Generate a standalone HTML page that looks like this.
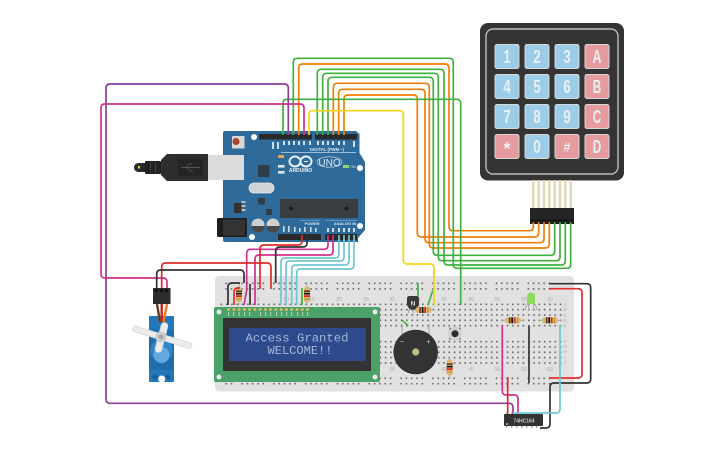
<!DOCTYPE html>
<html>
<head>
<meta charset="utf-8">
<style>
html,body{margin:0;padding:0;background:#fff;width:725px;height:453px;overflow:hidden}
svg{display:block}
text{font-family:"Liberation Sans",sans-serif}
</style>
</head>
<body>
<svg width="725" height="453" viewBox="0 0 725 453" xmlns="http://www.w3.org/2000/svg">
<defs>
<pattern id="dm" patternUnits="userSpaceOnUse" x="480.25" y="303.55" width="5.3" height="5.33"><rect width="1.6" height="1.6" fill="#666"/></pattern>
<pattern id="dr" patternUnits="userSpaceOnUse" x="527.5" y="282.5" width="31.8" height="5.6"><rect x="0" width="1.6" height="1.6" fill="#666"/><rect x="5.3" width="1.6" height="1.6" fill="#666"/><rect x="10.6" width="1.6" height="1.6" fill="#666"/><rect x="15.9" width="1.6" height="1.6" fill="#666"/><rect x="21.2" width="1.6" height="1.6" fill="#666"/></pattern>
<pattern id="dr2" patternUnits="userSpaceOnUse" x="527.5" y="377.5" width="31.8" height="5.4"><rect x="0" width="1.6" height="1.6" fill="#666"/><rect x="5.3" width="1.6" height="1.6" fill="#666"/><rect x="10.6" width="1.6" height="1.6" fill="#666"/><rect x="15.9" width="1.6" height="1.6" fill="#666"/><rect x="21.2" width="1.6" height="1.6" fill="#666"/></pattern>
<g id="res">
<rect x="-11" y="-0.5" width="22" height="1" fill="#aaa"/>
<rect x="-8" y="-3" width="16" height="6" rx="2.6" fill="#dcb877"/>
<rect x="-4.2" y="-3" width="1.7" height="6" fill="#6b3f12"/>
<rect x="-1.7" y="-3" width="1.7" height="6" fill="#111"/>
<rect x="0.8" y="-3" width="1.7" height="6" fill="#e02020"/>
<rect x="3.8" y="-3" width="1.3" height="6" fill="#b8943a"/>
</g>
</defs>

<!-- Breadboard -->
<rect x="215" y="276" width="359" height="115.5" rx="4" fill="#e1e1e1"/>
<rect x="220" y="303.5" width="345" height="24" fill="url(#dm)"/>
<rect x="220" y="340.5" width="345" height="24" fill="url(#dm)"/>
<rect x="222" y="282" width="330" height="9" fill="url(#dr)"/>
<rect x="222" y="377" width="330" height="9" fill="url(#dr2)"/>
<g font-size="5" fill="#aaa" text-anchor="middle">
<text x="258" y="301">5</text><text x="286" y="301">10</text><text x="312" y="301">15</text><text x="339" y="301">20</text><text x="366" y="301">25</text><text x="392" y="301">30</text><text x="418" y="301">35</text><text x="444" y="301">40</text><text x="471" y="301">45</text><text x="497" y="301">50</text><text x="524" y="301">55</text><text x="550" y="301">60</text>
<text x="392" y="371">30</text><text x="418" y="371">35</text><text x="444" y="371">40</text><text x="471" y="371">45</text><text x="497" y="371">50</text><text x="524" y="371">55</text><text x="550" y="371">60</text>
</g>
<g font-size="4.5" fill="#aaa" text-anchor="middle">
<text x="565" y="306">A</text><text x="565" y="311">B</text><text x="565" y="317">C</text><text x="565" y="322">D</text><text x="565" y="327">E</text>
<text x="565" y="343">F</text><text x="565" y="348">G</text><text x="565" y="353">H</text><text x="565" y="359">I</text><text x="565" y="364">J</text>
</g>

<!-- Arduino -->
<path d="M225 131 H356 L359.5 134 V153 L365 162 V230 L358 238 V242 H225 Q223 242 223 240 V133 Q223 131 225 131 Z" fill="#2f6b9a"/>
<rect x="259" y="134" width="53" height="5.5" fill="#2a2a2a"/>
<rect x="315" y="134" width="42" height="5.5" fill="#2a2a2a"/>
<rect x="278" y="234" width="43" height="6" fill="#2a2a2a"/>
<rect x="325" y="234" width="32" height="6" fill="#2a2a2a"/>
<rect x="232" y="136" width="12.5" height="12.5" rx="1" fill="#d8d8d8"/>
<circle cx="236" cy="141.5" r="3.5" fill="#a8442f"/>
<circle cx="254" cy="137" r="3" fill="#fff"/>
<circle cx="360" cy="168" r="3" fill="#fff"/>
<circle cx="360" cy="226" r="3" fill="#fff"/>
<circle cx="252" cy="237" r="3" fill="#fff"/>
<rect x="281" y="152" width="75" height="0.7" fill="#cfe0ee"/>
<text x="327" y="151" font-size="4.2" font-weight="bold" fill="#d5e3ef" text-anchor="middle">DIGITAL (PWM ~)</text>
<g fill="#cfdfec"><rect x="283" y="141" width="2" height="4"/><rect x="288" y="141" width="2" height="4"/><rect x="293" y="141" width="2" height="4"/><rect x="298" y="141" width="2" height="4"/><rect x="303" y="141" width="2" height="4"/><rect x="309" y="141" width="2" height="4"/><rect x="317" y="141" width="2" height="4"/><rect x="322" y="141" width="2" height="4"/><rect x="327" y="141" width="2" height="4"/><rect x="332" y="141" width="2" height="4"/><rect x="338" y="141" width="2" height="4"/><rect x="343" y="141" width="2" height="4"/><rect x="353" y="141" width="2" height="6"/><rect x="272" y="142" width="2" height="7"/><rect x="277" y="142" width="2" height="7"/></g>
<ellipse cx="295" cy="161.5" rx="5.5" ry="5" fill="none" stroke="#e8f0f6" stroke-width="2"/>
<ellipse cx="306" cy="161.5" rx="5.5" ry="5" fill="none" stroke="#e8f0f6" stroke-width="2"/>
<rect x="304" y="161" width="4" height="1" fill="#e8f0f6"/>
<text x="300.5" y="172" font-size="5" font-weight="bold" fill="#e8f0f6" text-anchor="middle">ARDUINO</text>
<ellipse cx="329.5" cy="162" rx="12.5" ry="5.2" fill="none" stroke="#cfe0ee" stroke-width="0.6"/>
<text x="329.5" y="166" font-size="10" fill="#dde8f2" text-anchor="middle">UNO</text>
<rect x="343" y="165" width="6" height="3" fill="#8fdc6a"/>
<text x="353" y="168" font-size="3.5" fill="#d5e3ef" text-anchor="middle">ON</text>
<rect x="278" y="155" width="6" height="3" fill="#dca75c"/>
<rect x="278" y="165" width="6.5" height="2.6" fill="#dfe6ea"/>
<rect x="278" y="171" width="6.5" height="2.6" fill="#dfe6ea"/>
<rect x="258" y="165" width="11.5" height="12" rx="1" fill="#2d3d4a"/>
<rect x="249" y="183" width="25" height="10" rx="5" fill="#cfd3d6" stroke="#e8e8e8" stroke-width="0.8"/>
<rect x="258" y="198" width="7" height="6.5" fill="#2d3d4a"/>
<rect x="280" y="199" width="78" height="19" fill="#3a3d40"/>
<circle cx="291" cy="208.5" r="2" fill="#1c1c1c"/>
<circle cx="346.5" cy="208.5" r="2" fill="#1c1c1c"/>
<rect x="234" y="203" width="7.5" height="10" fill="#333"/>
<rect x="241.5" y="201" width="4" height="2" fill="#bbb"/><rect x="241.5" y="205" width="4" height="2" fill="#bbb"/><rect x="241.5" y="209" width="4" height="2" fill="#bbb"/>
<rect x="266" y="209" width="6" height="6" fill="#2d3d4a"/>
<circle cx="258" cy="225" r="6.5" fill="#d0d0d0"/>
<path d="M251.5 226 a6.5 6.5 0 0 0 13 0 z" fill="#4a4a4a"/>
<circle cx="273" cy="225" r="6.5" fill="#d0d0d0"/>
<path d="M266.5 226 a6.5 6.5 0 0 0 13 0 z" fill="#4a4a4a"/>
<rect x="217" y="218" width="30" height="19" rx="1.5" fill="#1f1f1f"/>
<rect x="223" y="219.5" width="22" height="16" rx="2" fill="#333"/>
<text x="312" y="225" font-size="4" font-weight="bold" fill="#d5e3ef" text-anchor="middle">POWER</text>
<text x="345" y="225" font-size="4" font-weight="bold" fill="#d5e3ef" text-anchor="middle">ANALOG IN</text>
<rect x="300" y="220" width="20" height="0.6" fill="#8fb2cf"/><rect x="326" y="220" width="31" height="0.6" fill="#8fb2cf"/>
<g fill="#cfdfec"><rect x="283" y="226" width="1.6" height="6"/><rect x="288" y="226" width="1.6" height="6"/><rect x="294" y="227" width="1.6" height="5"/><rect x="299" y="228" width="1.6" height="4"/><rect x="304" y="227" width="1.6" height="5"/><rect x="310" y="227" width="1.6" height="5"/><rect x="315" y="228" width="1.6" height="4"/><rect x="327" y="228" width="2" height="4"/><rect x="332" y="228" width="2" height="4"/><rect x="338" y="228" width="2" height="4"/><rect x="343" y="228" width="2" height="4"/><rect x="348" y="228" width="2" height="4"/><rect x="353" y="228" width="2" height="4"/></g>

<!-- USB -->
<rect x="208" y="155" width="36" height="25" fill="#dcdcdc"/>
<path d="M167 154 H208 V181 H167 L161 175 V160 Z" fill="#2e2e2e"/>
<rect x="178" y="159" width="25" height="17" fill="#252525"/>
<path d="M181 167.5 H200 M186 167.5 L189 164 H192 M187 167.5 L190 171 H193" stroke="#555" stroke-width="0.9" fill="none"/>
<rect x="145" y="161" width="16" height="13" rx="1" fill="#222"/>
<rect x="150" y="162.5" width="1" height="10" fill="#444"/><rect x="155" y="162.5" width="1" height="10" fill="#444"/>
<path d="M145 163 H138 Q134 164 134 167.5 Q134 171 138 172 H145 Z" fill="#2a2a2a"/>
<rect x="138" y="166" width="2" height="2.5" fill="#e8d42a"/>

<!-- Keypad -->
<rect x="480" y="23" width="144" height="157.5" rx="8" fill="#343434"/>
<rect x="486" y="29" width="132" height="145" rx="7" fill="none" stroke="#bdbdbd" stroke-width="1.4"/>
<g stroke="#d9d9d9" stroke-width="1">
<g fill="#9bcde8">
<rect x="495" y="44.5" width="24" height="24" rx="2"/><rect x="525" y="44.5" width="24" height="24" rx="2"/><rect x="555" y="44.5" width="24" height="24" rx="2"/>
<rect x="495" y="74.5" width="24" height="24" rx="2"/><rect x="525" y="74.5" width="24" height="24" rx="2"/><rect x="555" y="74.5" width="24" height="24" rx="2"/>
<rect x="495" y="104.5" width="24" height="24" rx="2"/><rect x="525" y="104.5" width="24" height="24" rx="2"/><rect x="555" y="104.5" width="24" height="24" rx="2"/>
<rect x="525" y="134.5" width="24" height="24" rx="2"/>
</g>
<g fill="#e69b9e">
<rect x="585" y="44.5" width="24" height="24" rx="2"/><rect x="585" y="74.5" width="24" height="24" rx="2"/><rect x="585" y="104.5" width="24" height="24" rx="2"/><rect x="585" y="134.5" width="24" height="24" rx="2"/>
<rect x="495" y="134.5" width="24" height="24" rx="2"/><rect x="555" y="134.5" width="24" height="24" rx="2"/>
</g>
</g>
<g font-size="18" font-weight="bold" fill="#e9f0f3" text-anchor="middle">
<text x="507" y="63" textLength="7" lengthAdjust="spacingAndGlyphs">1</text><text x="537" y="63" textLength="7.5" lengthAdjust="spacingAndGlyphs">2</text><text x="567" y="63" textLength="7.5" lengthAdjust="spacingAndGlyphs">3</text><text x="597" y="63" textLength="9" lengthAdjust="spacingAndGlyphs">A</text>
<text x="507" y="93" textLength="7.5" lengthAdjust="spacingAndGlyphs">4</text><text x="537" y="93" textLength="7.5" lengthAdjust="spacingAndGlyphs">5</text><text x="567" y="93" textLength="7.5" lengthAdjust="spacingAndGlyphs">6</text><text x="597" y="93" textLength="8.5" lengthAdjust="spacingAndGlyphs">B</text>
<text x="507" y="123" textLength="7.5" lengthAdjust="spacingAndGlyphs">7</text><text x="537" y="123" textLength="7.5" lengthAdjust="spacingAndGlyphs">8</text><text x="567" y="123" textLength="7.5" lengthAdjust="spacingAndGlyphs">9</text><text x="597" y="123" textLength="8.5" lengthAdjust="spacingAndGlyphs">C</text>
<text x="507" y="155" textLength="8">*</text><text x="537" y="153" textLength="7.5" lengthAdjust="spacingAndGlyphs">0</text><text x="567" y="151.5" font-size="13">#</text><text x="597" y="153" textLength="8.5" lengthAdjust="spacingAndGlyphs">D</text>
</g>
<g stroke="#dfd6b4" stroke-width="2.4">
<path d="M533.3 180V208M538.7 180V208M544 180V208M549.3 180V208M554.7 180V208M560 180V208M565.3 180V208M570.7 180V208"/>
</g>
<rect x="530" y="208" width="44" height="16" fill="#252525"/>
<rect x="530" y="219" width="44" height="5" fill="#1b1b1b"/>

<!-- LCD -->
<rect x="214" y="307" width="166" height="75" rx="1.5" fill="#4aa268"/>
<rect x="223" y="318" width="148" height="53" rx="1" fill="#333"/>
<rect x="229" y="328" width="137" height="33" rx="1" fill="#2c4a8c"/>
<circle cx="219" cy="312" r="2.5" fill="#e8e8e8"/><circle cx="375" cy="312" r="2.5" fill="#e8e8e8"/>
<circle cx="219" cy="377" r="2.5" fill="#e8e8e8"/><circle cx="375" cy="377" r="2.5" fill="#e8e8e8"/>
<g fill="#d9bb62">
<circle cx="228.5" cy="309.5" r="1.5"/><circle cx="233.8" cy="309.5" r="1.5"/><circle cx="239" cy="309.5" r="1.5"/><circle cx="244.3" cy="309.5" r="1.5"/><circle cx="249.6" cy="309.5" r="1.5"/><circle cx="254.8" cy="309.5" r="1.5"/><circle cx="260" cy="309.5" r="1.5"/><circle cx="265.4" cy="309.5" r="1.5"/><circle cx="270.6" cy="309.5" r="1.5"/><circle cx="275.9" cy="309.5" r="1.5"/><circle cx="281.2" cy="309.5" r="1.5"/><circle cx="286.4" cy="309.5" r="1.5"/><circle cx="291.7" cy="309.5" r="1.5"/><circle cx="297" cy="309.5" r="1.5"/><circle cx="302.2" cy="309.5" r="1.5"/><circle cx="307.5" cy="309.5" r="1.5"/>
</g>
<g fill="#a9cdb3">
<rect x="228" y="312" width="1.2" height="4"/><rect x="233" y="312" width="1.2" height="4"/><rect x="238.5" y="312" width="1.2" height="4"/><rect x="244" y="312" width="1.2" height="4"/><rect x="249" y="312" width="1.2" height="4"/><rect x="260" y="312" width="1.2" height="4"/><rect x="265" y="312" width="1.2" height="4"/><rect x="270" y="312" width="1.2" height="4"/><rect x="276" y="312" width="1.2" height="4"/><rect x="281" y="312" width="1.2" height="4"/><rect x="286" y="312" width="1.2" height="4"/><rect x="291" y="312" width="1.2" height="4"/><rect x="297" y="312" width="1.2" height="4"/><rect x="302" y="312" width="1.2" height="4"/><rect x="307" y="312" width="1.2" height="4"/>
</g>
<text x="245.5" y="341.5" font-size="12.2" fill="#a9b6d9" textLength="103" lengthAdjust="spacingAndGlyphs" style="font-family:'Liberation Mono',monospace">Access Granted</text>
<text x="267.5" y="354" font-size="12.2" fill="#a9b6d9" textLength="65" lengthAdjust="spacingAndGlyphs" style="font-family:'Liberation Mono',monospace">WELCOME!!</text>

<!-- Servo -->
<rect x="149" y="316" width="25" height="66" rx="1" fill="#2477b8"/>
<rect x="149" y="330" width="25" height="40" fill="#1f6dab"/>
<circle cx="161.5" cy="350" r="11" fill="#2f86c9"/>
<circle cx="161.5" cy="355" r="8" fill="#62a9e2"/>
<circle cx="155" cy="377" r="2.5" fill="#1a5f97"/><circle cx="168" cy="377" r="2.5" fill="#1a5f97"/>
<circle cx="161.7" cy="379" r="3.5" fill="#fff"/><rect x="160.5" y="379" width="2.4" height="4" fill="#fff"/>
<g stroke-linecap="round" fill="none">
<path d="M135.5 329 L189 345.5" stroke="#d7d7d7" stroke-width="6.5"/>
<path d="M135.5 329 L189 345.5" stroke="#ececec" stroke-width="5"/>
<path d="M164.5 326 L158.5 349" stroke="#d7d7d7" stroke-width="7.5"/>
<path d="M164.5 326 L158.5 349" stroke="#ececec" stroke-width="6"/>
</g>
<circle cx="161" cy="337" r="5.5" fill="#cfcfcf"/><circle cx="161" cy="337" r="2.5" fill="#a9a9a9"/>

<!-- Components on breadboard -->
<path d="M410 308 L408 313M413 308 V313M416 308 L418 313" stroke="#888" stroke-width="0.8"/>
<path d="M407 298.5 Q407 296 409.5 296 H416.5 Q419 296 419 298.5 V305 Q417 310 413 310 Q409 310 407 305 Z" fill="#3a3a3a"/>
<text x="413" y="305.5" font-size="6.5" font-weight="bold" fill="#ddd" text-anchor="middle">N</text>
<path d="M402 320 L408.3 325.7" stroke="#3eb13e" stroke-width="1.5"/>
<path d="M402 324V334M429 324V334" stroke="#999" stroke-width="0.9"/>
<circle cx="415.7" cy="352" r="22.3" fill="#333"/>
<circle cx="415.7" cy="352" r="3.6" fill="#c4b783"/>
<text x="402" y="344" font-size="7.5" fill="#ccc" text-anchor="middle">−</text>
<text x="428.5" y="344" font-size="7.5" fill="#ccc" text-anchor="middle">+</text>
<rect x="448.5" y="327" width="13" height="13.5" fill="#d0d0d0"/>
<circle cx="455" cy="333.7" r="3.5" fill="#2a2a2a"/>
<g fill="#777"><circle cx="450" cy="328.5" r="0.9"/><circle cx="460" cy="328.5" r="0.9"/><circle cx="450" cy="339" r="0.9"/><circle cx="460" cy="339" r="0.9"/></g>
<use href="#res" transform="translate(423.5 310)"/>
<use href="#res" transform="translate(449.7 367.5) rotate(90)"/>
<use href="#res" transform="translate(513 320.3)"/>
<use href="#res" transform="translate(550 320.3)"/>
<use href="#res" transform="translate(239 294.5) rotate(90)"/>
<use href="#res" transform="translate(307 294.5) rotate(90)"/>
<path d="M525.5 310 Q525.5 303 531 302.5 Q536.5 303 536.5 310 M528.5 310 V303 M533.5 310 V303" stroke="#aaa" stroke-width="0.9" fill="none"/>
<path d="M527 304 V297 Q527 292.5 531 292.5 Q535 292.5 535 297 V304 Z" fill="#8fdb5c"/>
<rect x="504" y="414" width="39" height="12" rx="1" fill="#333"/>
<g fill="#aaa"><rect x="506" y="412.5" width="1.4" height="1.5"/><rect x="511" y="412.5" width="1.4" height="1.5"/><rect x="516" y="412.5" width="1.4" height="1.5"/><rect x="521" y="412.5" width="1.4" height="1.5"/><rect x="526" y="412.5" width="1.4" height="1.5"/><rect x="531" y="412.5" width="1.4" height="1.5"/><rect x="536" y="412.5" width="1.4" height="1.5"/>
<rect x="506" y="426" width="1.4" height="2"/><rect x="511" y="426" width="1.4" height="2"/><rect x="516" y="426" width="1.4" height="2"/><rect x="521" y="426" width="1.4" height="2"/><rect x="526" y="426" width="1.4" height="2"/><rect x="531" y="426" width="1.4" height="2"/><rect x="536" y="426" width="1.4" height="2"/></g>
<circle cx="507" cy="424" r="0.9" fill="#ddd"/>
<text x="524" y="422.3" font-size="5" font-weight="bold" fill="#ccc" text-anchor="middle">74HC164</text>

<!-- Wires -->
<g fill="none" stroke-width="1.7" stroke-linecap="butt">
<g stroke="#f07f09">
<path d="M298.7 135V68Q298.7 64 302.7 64H445Q449 64 449 68V226.7Q449 230.7 453 230.7H529.3Q533.3 230.7 533.3 226.7V222"/>
<path d="M344 135V99Q344 95 348 95H413.3Q417.3 95 417.3 99V233Q417.3 237 421.3 237H534.7Q538.7 237 538.7 233V222"/>
<path d="M338.7 135V93.3Q338.7 89.3 342.7 89.3H421Q425 89.3 425 93.3V238.7Q425 242.7 429 242.7H540Q544 242.7 544 238.7V222"/>
<path d="M333.3 135V87.3Q333.3 83.3 337.3 83.3H425.3Q429.3 83.3 429.3 87.3V244Q429.3 248 433.3 248H545.3Q549.3 248 549.3 244V222"/>
</g>
<g stroke="#3fb13f">
<path d="M293.3 135V62Q293.3 58.3 297 58.3H449.5Q453.3 58.3 453.3 62V264.5Q453.3 268.3 457 268.3H567Q570.7 268.3 570.7 264.5V222"/>
<path d="M328 135V81.3Q328 77.3 332 77.3H429.3Q433.3 77.3 433.3 81.3V251.3Q433.3 255.3 437.3 255.3H550.7Q554.7 255.3 554.7 251.3V222"/>
<path d="M322.7 135V77.3Q322.7 73.3 326.7 73.3H434.3Q438.3 73.3 438.3 77.3V256.7Q438.3 260.7 442.3 260.7H556Q560 260.7 560 256.7V222"/>
<path d="M317.3 135V73.3Q317.3 69.3 321.3 69.3H440Q444 69.3 444 73.3V261Q444 265 448 265H561.3Q565.3 265 565.3 261V222"/>
<path d="M283 135V103.3Q283 99.3 287 99.3H456.7Q460.7 99.3 460.7 103.3V305"/>
<path d="M418 283V296M432.7 290.7L428 305M302 288V305"/>
</g>
<path stroke="#f5d417" d="M309 135V114.7Q309 110.7 313 110.7H399.3Q403.3 110.7 403.3 114.7V260Q403.3 264 407.3 264H430Q434 264 434 268V305"/>
<path stroke="#8a3f99" d="M288.3 135V88Q288.3 84 284.3 84H110Q106 84 106 88V399.3Q106 403.3 110 403.3H509Q513 403.3 513 407.3V414"/>
<g stroke="#d0308f">
<path d="M304 135V108Q304 104 300 104H105Q101 104 101 108V274Q101 278 105 278H163Q167 278 167 282V290"/>
<path d="M328 235V245.3Q328 249.3 324 249.3H250.7Q246.7 249.3 246.7 253.3V290L244 305"/>
<path d="M333 235V251Q333 255 329 255H259Q255 255 255 259V305"/>
<path d="M502.3 325V391Q502.3 395 506.3 395H514Q518 395 518 399V414"/>
</g>
<g stroke="#e22b2b">
<path d="M302 235V241Q302 245 298 245H264Q260 245 260 249V289"/>
<path d="M161.7 288V267Q161.7 263 165.7 263H267Q271 263 271 267V289"/>
<path d="M234 305V292Q234 288 238 288H240"/>
<path d="M507.7 377V414"/>
<path d="M549 288.7H578Q582 288.7 582 292.7V374Q582 378 578 378H549"/>
</g>
<g stroke="#333">
<path d="M307 235V243Q307 247 303 247H279.7Q275.7 247 275.7 251V283"/>
<path d="M156.7 288V274Q156.7 270 160.7 270H240Q244 270 244 274V283"/>
<path d="M228 305V287Q228 283 232 283H240"/>
<path d="M250 284V305"/>
<path d="M529 326V383"/>
<path d="M549 283.7H586.7Q590.7 283.7 590.7 287.7V379Q590.7 383 586.7 383H554Q550 383 550 387V424Q550 428 546 428H540"/>
</g>
<g stroke="#6fc7d6">
<path d="M339 235V254Q339 258 335 258H285Q281 258 281 262V305"/>
<path d="M344 235V257Q344 261 340 261H290Q286 261 286 265V305"/>
<path d="M349 235V261Q349 265 345 265H295.7Q291.7 265 291.7 269V305"/>
<path d="M354 235V265Q354 269 350 269H300.7Q296.7 269 296.7 273V305"/>
<path d="M560 325V409Q560 413 556 413H513"/>
</g>
</g>

<!-- Servo connector -->
<path d="M157 304 L160 322" stroke="#6b3a22" stroke-width="2.4"/>
<path d="M161.7 304 V322" stroke="#c6281f" stroke-width="2.4"/>
<path d="M167 304 L163.5 322" stroke="#e67e1e" stroke-width="2.4"/>
<rect x="153" y="288" width="17.5" height="16" fill="#2c2c2c"/>
<rect x="155" y="289" width="3" height="3" fill="#111"/><rect x="160" y="289" width="3" height="3" fill="#111"/><rect x="165" y="289" width="3" height="3" fill="#111"/>
</svg>
</body>
</html>
